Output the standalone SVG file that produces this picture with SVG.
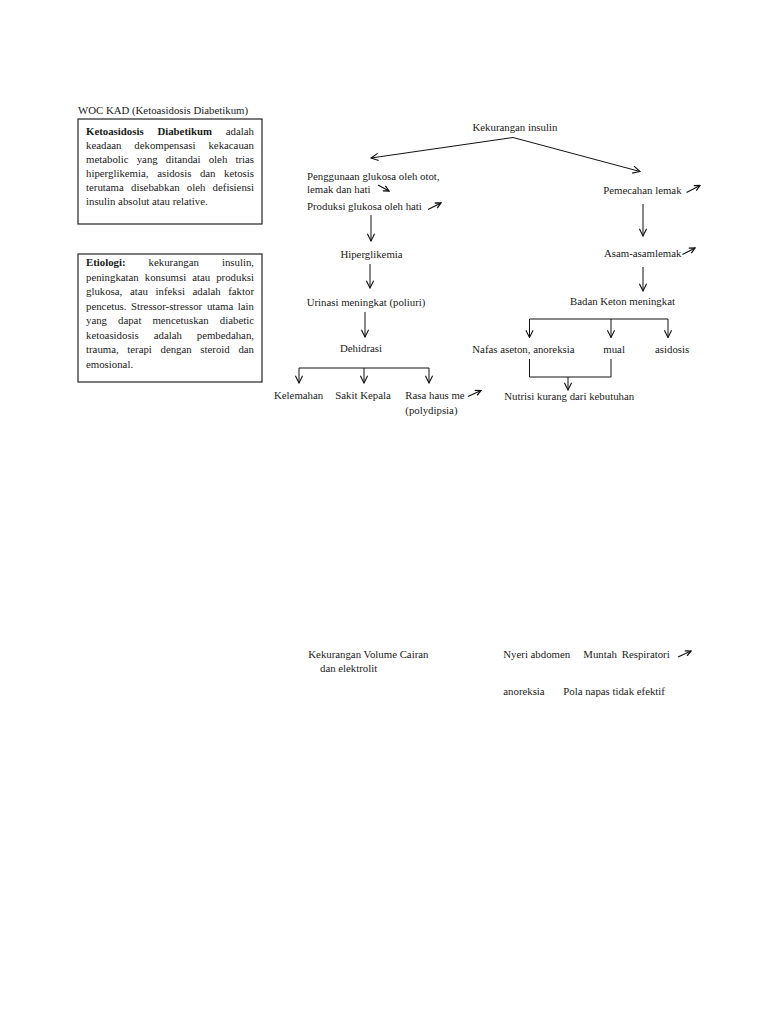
<svg xmlns="http://www.w3.org/2000/svg" width="768" height="1024" viewBox="0 0 768 1024">
<style>
text{font-family:"Liberation Serif","Times New Roman",serif;font-size:10.8px;fill:#1a1a1a}
.b{font-weight:bold}
.box{fill:none;stroke:#222;stroke-width:1.2}
.ln{fill:none;stroke:#111;stroke-width:1}
.ar{fill:none;stroke:#111;stroke-width:1;marker-end:url(#ah)}
.sm{fill:none;stroke:#111;stroke-width:1.1;marker-end:url(#sh)}
</style>
<defs>
<marker id="ah" viewBox="0 0 10 10" refX="9" refY="5" markerWidth="9" markerHeight="9" markerUnits="userSpaceOnUse" orient="auto"><path d="M1,1 L9,5 L1,9" fill="none" stroke="#111" stroke-width="1.2"/></marker>
<marker id="sh" viewBox="0 0 10 10" refX="9" refY="5" markerWidth="7" markerHeight="7" markerUnits="userSpaceOnUse" orient="auto"><path d="M1,1 L9,5 L1,9" fill="none" stroke="#111" stroke-width="1.8"/></marker>
</defs>

<text x="78" y="114">WOC KAD (Ketoasidosis Diabetikum)</text>

<g id="box-definisi">
<rect class="box" x="78" y="119" width="184" height="105"/>
<text y="134.5"><tspan class="b" x="86">Ketoasidosis</tspan><tspan class="b" x="157.4">Diabetikum</tspan><tspan x="254" text-anchor="end">adalah</tspan></text>
<text y="148.7"><tspan x="86">keadaan</tspan><tspan x="134.3">dekompensasi</tspan><tspan x="254" text-anchor="end">kekacauan</tspan></text>
<text y="163"><tspan x="86">metabolic</tspan><tspan x="136.7">yang</tspan><tspan x="165.8">ditandai</tspan><tspan x="208.7">oleh</tspan><tspan x="254" text-anchor="end">trias</tspan></text>
<text y="177.2"><tspan x="86">hiperglikemia,</tspan><tspan x="157.2">asidosis</tspan><tspan x="199.9">dan</tspan><tspan x="254" text-anchor="end">ketosis</tspan></text>
<text y="191.3"><tspan x="86">terutama</tspan><tspan x="131">disebabkan</tspan><tspan x="186.8">oleh</tspan><tspan x="254" text-anchor="end">defisiensi</tspan></text>
<text x="86" y="205.3">insulin absolut atau relative.</text>
</g>

<g id="box-etiologi">
<rect class="box" x="78" y="254" width="184" height="128"/>
<text y="266"><tspan class="b" x="86">Etiologi:</tspan><tspan x="148.6">kekurangan</tspan><tspan x="254" text-anchor="end">insulin,</tspan></text>
<text y="280.6"><tspan x="86">peningkatan</tspan><tspan x="144.8">konsumsi</tspan><tspan x="192.2">atau</tspan><tspan x="254" text-anchor="end">produksi</tspan></text>
<text y="295.1"><tspan x="86">glukosa,</tspan><tspan x="129.9">atau</tspan><tspan x="155.5">infeksi</tspan><tspan x="192.5">adalah</tspan><tspan x="254" text-anchor="end">faktor</tspan></text>
<text y="309.7"><tspan x="86">pencetus.</tspan><tspan x="131">Stressor-stressor</tspan><tspan x="206.9">utama</tspan><tspan x="254" text-anchor="end">lain</tspan></text>
<text y="324.2"><tspan x="86">yang</tspan><tspan x="118">dapat</tspan><tspan x="152.4">mencetuskan</tspan><tspan x="254" text-anchor="end">diabetic</tspan></text>
<text y="338.8"><tspan x="86">ketoasidosis</tspan><tspan x="153.7">adalah</tspan><tspan x="254" text-anchor="end">pembedahan,</tspan></text>
<text y="353.3"><tspan x="86">trauma,</tspan><tspan x="127.3">terapi</tspan><tspan x="160.5">dengan</tspan><tspan x="200.3">steroid</tspan><tspan x="254" text-anchor="end">dan</tspan></text>
<text x="86" y="367.8">emosional.</text>
</g>

<g id="connectors">
<polyline class="ar" points="513,137.5 371,158"/>
<polyline class="ar" points="513,137.5 640,171.5"/>
<line class="sm" x1="378" y1="185" x2="389" y2="191"/>
<line class="sm" x1="428" y1="209.5" x2="441" y2="203"/>
<line class="sm" x1="686.5" y1="192.5" x2="700" y2="185.5"/>
<line class="ar" x1="371" y1="215" x2="371" y2="241"/>
<line class="ar" x1="370" y1="264" x2="370" y2="288"/>
<line class="ar" x1="365" y1="312" x2="365" y2="337"/>
<polyline class="ln" points="299,368 429,368"/>
<line class="ar" x1="299" y1="368" x2="299" y2="383"/>
<line class="ar" x1="364" y1="368" x2="364" y2="383"/>
<line class="ar" x1="429" y1="368" x2="429" y2="383"/>
<line class="sm" x1="468" y1="396.5" x2="481" y2="390.5"/>
<line class="ar" x1="643" y1="204" x2="643" y2="236"/>
<line class="sm" x1="682.5" y1="254.5" x2="695" y2="248"/>
<line class="ar" x1="643" y1="267" x2="643" y2="291"/>
<polyline class="ln" points="529.5,319 668,319"/>
<line class="ar" x1="529.5" y1="319" x2="529.5" y2="337.5"/>
<line class="ar" x1="611" y1="319" x2="611" y2="337.5"/>
<line class="ar" x1="668" y1="319" x2="668" y2="337.5"/>
<polyline class="ln" points="529.5,359 529.5,377 611,377 611,359"/>
<line class="ar" x1="568" y1="377" x2="568" y2="390"/>
<line class="sm" x1="678" y1="657" x2="691" y2="651"/>
</g>

<g id="n-kekurangan-insulin"><text x="472.5" y="130.5">Kekurangan insulin</text></g>
<g id="n-penggunaan">
<text x="307" y="179.5">Penggunaan glukosa oleh otot,</text>
<text x="307" y="193">lemak dan hati</text>
<text x="307" y="210">Produksi glukosa oleh hati</text>
</g>
<g id="n-pemecahan"><text x="603.3" y="193.5">Pemecahan lemak</text></g>
<g id="n-hiperglikemia"><text x="371.5" y="258" text-anchor="middle">Hiperglikemia</text></g>
<g id="n-urinasi"><text x="306.7" y="305.5">Urinasi meningkat (poliuri)</text></g>
<g id="n-dehidrasi"><text x="361" y="352" text-anchor="middle">Dehidrasi</text></g>
<g id="n-kelemahan"><text x="274" y="398.5">Kelemahan</text></g>
<g id="n-sakit-kepala"><text x="335.3" y="398.5">Sakit Kepala</text></g>
<g id="n-rasa-haus">
<text x="405.3" y="398.5">Rasa haus me</text>
<text x="405.3" y="414">(polydipsia)</text>
</g>
<g id="n-asam"><text x="604" y="257">Asam-asamlemak</text></g>
<g id="n-badan-keton"><text x="570" y="304.5">Badan Keton meningkat</text></g>
<g id="n-nafas"><text x="472.3" y="352.5">Nafas aseton, anoreksia</text></g>
<g id="n-mual"><text x="603.3" y="352.5">mual</text></g>
<g id="n-asidosis"><text x="655" y="352.5">asidosis</text></g>
<g id="n-nutrisi"><text x="504.3" y="399.5">Nutrisi kurang dari kebutuhan</text></g>
<g id="n-volume">
<text x="308.3" y="657.5">Kekurangan Volume Cairan</text>
<text x="320" y="672">dan elektrolit</text>
</g>
<g id="n-nyeri"><text x="503.3" y="657.5">Nyeri abdomen</text></g>
<g id="n-muntah"><text x="583.3" y="657.5">Muntah</text></g>
<g id="n-respiratori"><text x="621.7" y="657.5">Respiratori</text></g>
<g id="n-anoreksia"><text x="503.3" y="695">anoreksia</text></g>
<g id="n-pola"><text x="563.3" y="695">Pola napas tidak efektif</text></g>
</svg>
